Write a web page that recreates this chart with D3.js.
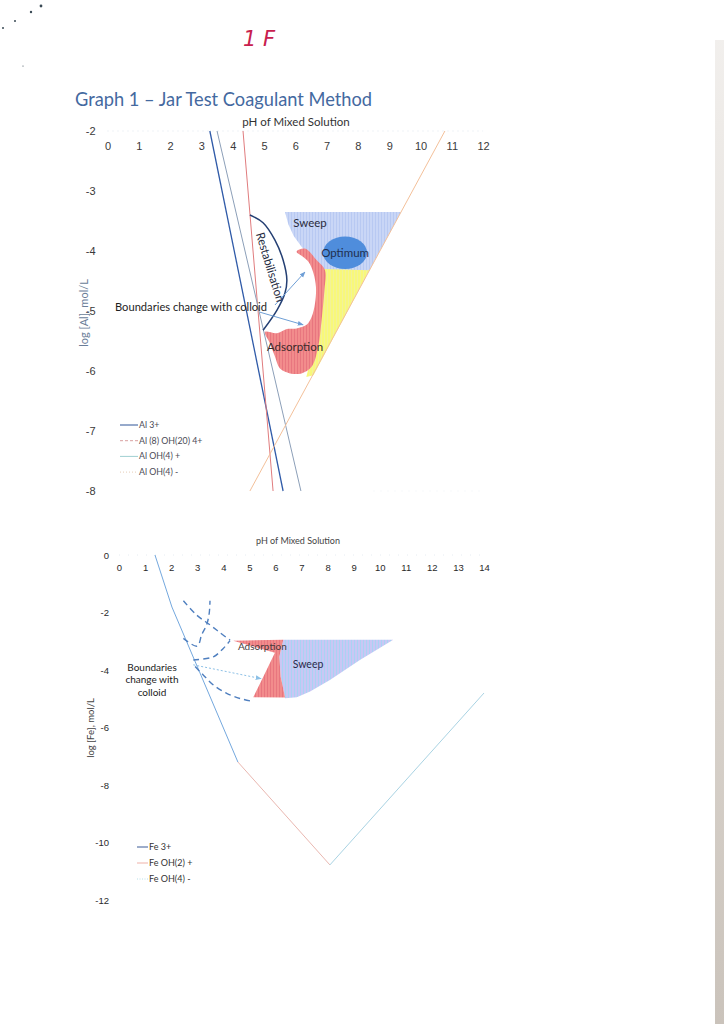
<!DOCTYPE html>
<html><head><meta charset="utf-8">
<script src="https://cdn.jsdelivr.net/npm/d3@7/dist/d3.min.js"></script>
<style>
html,body{margin:0;padding:0;background:#fff;}
svg{display:block;font-family:Lato,"Open Sans",sans-serif;}
</style></head><body>
<svg id="c" width="724" height="1024"></svg>
<script>
// ================= DATA : Graph 1 (Aluminium) =================
const alXTicks = [0,1,2,3,4,5,6,7,8,9,10,11,12];
const alYTicks = [-2,-3,-4,-5,-6,-7,-8];
const alSeriesNames = ["Al 3+","Al (8) OH(20) 4+","Al OH(4) +","Al OH(4) -"];
const alLine3 = [[3.27,-2],[5.61,-8]];
const alLine8 = [[4.33,-2],[5.29,-8]];
const alLineOH4p = [[3.50,-2],[6.18,-8]];
const alLineOH4m = [[10.78,-2],[4.55,-8]];
const alSweep = [[5.67,-3.35],[9.38,-3.35],[8.35,-4.34],[7.9,-4.36],[7.4,-4.34],[6.95,-4.32],[6.7,-4.2],[6.45,-4.07],[6.2,-3.93],[5.95,-3.75],[5.78,-3.56],[5.67,-3.35]];
const alOptimum = {pH:7.59, logC:-4.03, rpH:0.70, rlog:0.27};
const alYellow = [[6.88,-4.3],[8.37,-4.32],[6.58,-6.07],[6.35,-6.1],[6.55,-5.7],[6.75,-5.2],[6.85,-4.7]];
const alAdsorption = [[6.04,-4.01],[6.31,-3.96],[6.68,-4.15],[6.95,-4.32],[6.93,-4.65],[6.84,-5.15],[6.73,-5.60],[6.52,-5.93],[6.20,-6.04],[5.83,-6.04],[5.51,-5.96],[5.35,-5.76],[5.19,-5.54],[5.03,-5.35],[5.41,-5.37],[5.73,-5.30],[6.04,-5.29],[6.36,-5.23],[6.52,-5.10],[6.63,-4.87],[6.66,-4.60],[6.58,-4.37],[6.42,-4.18],[6.20,-4.08]];
const alRestab = [[4.55,-3.40],[4.97,-3.53],[5.35,-3.82],[5.61,-4.15],[5.73,-4.48],[5.67,-4.70],[5.42,-4.98],[4.97,-5.32]];
const alArrows = [[[5.35,-4.90],[6.31,-4.35]],[[4.87,-5.02],[6.25,-5.23]]];

// ================= DATA : Graph 2 (Iron) =================
const feXTicks = [0,1,2,3,4,5,6,7,8,9,10,11,12,13,14];
const feYTicks = [0,-2,-4,-6,-8,-10,-12];
const feSeriesNames = ["Fe 3+","Fe OH(2) +","Fe OH(4) -"];
const feLine3 = [[1.38,0],[2.03,-1.81],[4.56,-7.20]];
const feLineOH2 = [[4.56,-7.20],[8.09,-10.78]];
const feLineOH4 = [[8.09,-10.78],[14.0,-4.80]];
const feAdsorption = [[4.38,-2.98],[6.30,-2.95],[6.15,-3.54],[6.20,-4.23],[6.37,-4.96],[5.15,-4.95],[5.54,-4.23],[5.98,-3.40]];
const feSweep = [[6.30,-2.95],[10.52,-2.95],[9.24,-3.65],[8.09,-4.35],[7.33,-4.75],[6.82,-4.95],[6.37,-4.98],[6.20,-4.23],[6.15,-3.54]];
const feBoundaries = [
  [[2.47,-1.59],[2.98,-2.09],[3.49,-2.43],[3.87,-2.70],[4.26,-2.96]],
  [[2.47,-2.90],[3.00,-3.17],[3.17,-2.78],[3.36,-2.43],[3.46,-2.03],[3.49,-1.59]],
  [[2.85,-3.65],[3.62,-3.54],[4.00,-3.25],[4.26,-2.98]],
  [[2.92,-3.88],[3.23,-4.17],[3.62,-4.52],[4.13,-4.81],[4.64,-4.99],[5.15,-5.10]]
];
const feArrow = [[2.85,-3.82],[5.45,-4.30]];

// ================= DRAW =================
const svg = d3.select("#c");
const defs = svg.append("defs");
const fmt = d => String(d);
function stripe(id, base, line){
  const p = defs.append("pattern").attr("id",id).attr("patternUnits","userSpaceOnUse").attr("width",3).attr("height",10);
  p.append("rect").attr("width",3).attr("height",10).attr("fill",base);
  p.append("line").attr("x1",0.5).attr("x2",0.5).attr("y1",0).attr("y2",10).attr("stroke",line).attr("stroke-width",1);
}
stripe("redS","#f28c8c","#e8767f");
stripe("sweepS","#c9d6f6","#b8c9f2");
stripe("yelS","#f8f87a","#f2f29a");
stripe("sweep2S","#c9c7f4","#a9d3f3");
function marker(id,color){
  defs.append("marker").attr("id",id).attr("viewBox","0 0 10 10").attr("refX",9).attr("refY",5)
   .attr("markerWidth",6).attr("markerHeight",6).attr("orient","auto")
   .append("path").attr("d","M0,1L10,5L0,9z").attr("fill",color);
}
marker("arr1","#6f9fd6");
marker("arr2","#8cc0e6");

// scan artefacts
svg.append("g").selectAll("circle").data([[41,6,1.4],[31,12,1.2],[15,21,1],[3,28,1],[23,66,0.6]]).join("circle")
  .attr("cx",d=>d[0]).attr("cy",d=>d[1]).attr("r",d=>d[2]).attr("fill","#3a4a55");
const grad = defs.append("linearGradient").attr("id","edge").attr("x1",0).attr("x2",0).attr("y1",0).attr("y2",1);
grad.append("stop").attr("offset","0").attr("stop-color","#eeebe8");
grad.append("stop").attr("offset","0.5").attr("stop-color","#d6cfc7");
grad.append("stop").attr("offset","1").attr("stop-color","#bdb4aa");
svg.append("rect").attr("x",715).attr("y",40).attr("width",9).attr("height",984).attr("fill","url(#edge)").attr("opacity",0.8);

svg.append("text").attr("x",243).attr("y",46).attr("fill","#c8204e").attr("font-size",21)
  .attr("font-family","DejaVu Sans").attr("font-style","italic").attr("font-weight",300).text("1 F");

svg.append("text").attr("x",75).attr("y",106).attr("fill","#44699f").attr("font-size",20)
  .attr("textLength",297).attr("lengthAdjust","spacingAndGlyphs")
  .text("Graph 1 – Jar Test Coagulant Method");

// ---------- Chart 1 ----------
const x1 = d3.scaleLinear().domain([0,12]).range([107.5,483.1]);
const y1 = d3.scaleLinear().domain([-2,-8]).range([131,491]);
const g1 = svg.append("g");
const ln1 = d3.line().x(d=>x1(d[0])).y(d=>y1(d[1]));

g1.append("line").attr("x1",x1(0)).attr("x2",x1(12)).attr("y1",y1(-2)).attr("y2",y1(-2))
  .attr("stroke","#dfe6ee").attr("stroke-dasharray","1,4");
g1.append("line").attr("x1",x1(8.5)).attr("x2",x1(12)).attr("y1",y1(-8)).attr("y2",y1(-8))
  .attr("stroke","#eef2f6").attr("stroke-dasharray","1,6");

const ax1 = g1.append("g").attr("transform",`translate(0,${y1(-2)})`)
  .call(d3.axisBottom(x1).tickValues(alXTicks).tickFormat(fmt).tickSize(0).tickPadding(11));
ax1.select(".domain").remove();
ax1.selectAll("text").attr("font-size",11).attr("fill","#3a3a3a");
const ay1 = g1.append("g").attr("transform",`translate(${x1(0)},0)`)
  .call(d3.axisLeft(y1).tickValues(alYTicks).tickFormat(fmt).tickSize(0).tickPadding(12));
ay1.select(".domain").remove();
ay1.selectAll("text").attr("font-size",11).attr("fill","#3a3a3a");
g1.append("text").attr("x",296).attr("y",126).attr("text-anchor","middle").attr("font-size",11.5).attr("fill","#333").text("pH of Mixed Solution");
g1.append("text").attr("transform","translate(88,313) rotate(-90)").attr("text-anchor","middle").attr("font-size",11).attr("fill","#6a7d98").text("log [Al], mol/L");

// regions
g1.append("path").attr("d",ln1(alSweep)).attr("fill","url(#sweepS)");
g1.append("path").attr("d",ln1(alYellow)).attr("fill","url(#yelS)");
g1.append("path").attr("d",d3.line().x(d=>x1(d[0])).y(d=>y1(d[1])).curve(d3.curveCatmullRomClosed)(alAdsorption)).attr("fill","url(#redS)");
g1.append("ellipse").attr("cx",x1(alOptimum.pH)).attr("cy",y1(alOptimum.logC))
  .attr("rx",x1(alOptimum.pH+alOptimum.rpH)-x1(alOptimum.pH))
  .attr("ry",y1(alOptimum.logC-alOptimum.rlog)-y1(alOptimum.logC)).attr("fill","#4f8ddc");

// lines
const alCols = ["#2f5aa8","#e07c7e","#8c9fb8","#f3c09a"];
[alLine3,alLine8,alLineOH4p,alLineOH4m].forEach((d,i)=>{
  g1.append("path").attr("d",ln1(d)).attr("fill","none").attr("stroke",alCols[i]).attr("stroke-width",i===0?1.3:1);
});
g1.append("path").attr("d",d3.line().x(d=>x1(d[0])).y(d=>y1(d[1])).curve(d3.curveCatmullRom)(alRestab))
  .attr("fill","none").attr("stroke","#243f73").attr("stroke-width",1.5);
alArrows.forEach(a=>{
  g1.append("path").attr("d",ln1(a)).attr("stroke","#6f9fd6").attr("stroke-width",1).attr("fill","none").attr("marker-end","url(#arr1)");
});
// labels
g1.append("text").attr("x",x1(6.47)).attr("y",y1(-3.53)+4).attr("text-anchor","middle").attr("font-size",11.5).attr("fill","#2b2b3b").text("Sweep");
g1.append("text").attr("x",x1(alOptimum.pH)).attr("y",y1(alOptimum.logC)+4).attr("text-anchor","middle").attr("font-size",11.5).attr("fill","#1f2f4f").text("Optimum");
g1.append("text").attr("x",x1(5.99)).attr("y",y1(-5.60)+4).attr("text-anchor","middle").attr("font-size",11.5).attr("fill","#3a2a2a").text("Adsorption");
g1.append("text").attr("transform",`translate(${x1(5.2)},${y1(-4.27)}) rotate(73)`).attr("text-anchor","middle").attr("dy","0.35em")
  .attr("font-size",12).attr("textLength",72).attr("lengthAdjust","spacingAndGlyphs").attr("fill","#1e2a3e").text("Restabilisation");
g1.append("text").attr("x",115).attr("y",311).attr("font-size",12.3).attr("textLength",152).attr("lengthAdjust","spacingAndGlyphs")
  .attr("fill","#1e1e1e").text("Boundaries change with colloid");

// legend 1
const alDash = [null,"3,2",null,"1,2"];
const alLegCols = ["#2f5597","#d9a0a0","#9fcfd2","#e6cdb8"];
alSeriesNames.forEach((n,i)=>{
  const yy = 425 + i*15.7;
  g1.append("line").attr("x1",120).attr("x2",138).attr("y1",yy).attr("y2",yy).attr("stroke",alLegCols[i]).attr("stroke-dasharray",alDash[i]);
  g1.append("text").attr("x",139).attr("y",yy+3).attr("font-size",8.8).attr("fill","#4a4a55").text(n);
});

// ---------- Chart 2 ----------
const x2 = d3.scaleLinear().domain([0,14]).range([119,484]);
const y2 = d3.scaleLinear().domain([0,-12]).range([555,900]);
const g2 = svg.append("g");
const ln2 = d3.line().x(d=>x2(d[0])).y(d=>y2(d[1]));
g2.append("line").attr("x1",x2(0)).attr("x2",x2(14)).attr("y1",y2(0)).attr("y2",y2(0))
  .attr("stroke","#e6ecf2").attr("stroke-dasharray","1,8");
const ax2 = g2.append("g").attr("transform",`translate(0,${y2(0)})`)
  .call(d3.axisBottom(x2).tickValues(feXTicks).tickFormat(fmt).tickSize(0).tickPadding(9));
ax2.select(".domain").remove();
ax2.selectAll("text").attr("font-size",9.5).attr("fill","#2a2a2a");
const ay2 = g2.append("g").attr("transform",`translate(${x2(0)},0)`)
  .call(d3.axisLeft(y2).tickValues(feYTicks).tickFormat(fmt).tickSize(0).tickPadding(10));
ay2.select(".domain").remove();
ay2.selectAll("text").attr("font-size",9.5).attr("fill","#2a2a2a");
g2.append("text").attr("x",298).attr("y",544).attr("text-anchor","middle").attr("font-size",9).attr("fill","#444").text("pH of Mixed Solution");
g2.append("text").attr("transform","translate(94,728) rotate(-90)").attr("text-anchor","middle").attr("font-size",9.5).attr("fill","#444").text("log [Fe], mol/L");

g2.append("path").attr("d",ln2(feSweep)).attr("fill","url(#sweep2S)");
g2.append("path").attr("d",ln2(feAdsorption)).attr("fill","url(#redS)");
g2.append("path").attr("d",ln2(feLine3)).attr("fill","none").attr("stroke","#74a8de").attr("stroke-width",1);
g2.append("path").attr("d",ln2(feLineOH2)).attr("fill","none").attr("stroke","#e9b7b0").attr("stroke-width",1);
g2.append("path").attr("d",ln2(feLineOH4)).attr("fill","none").attr("stroke","#a9d3e3").attr("stroke-width",1);
feBoundaries.forEach(b=>{
  g2.append("path").attr("d",d3.line().x(d=>x2(d[0])).y(d=>y2(d[1])).curve(d3.curveCatmullRom)(b))
    .attr("fill","none").attr("stroke","#4f7fbf").attr("stroke-width",1.4).attr("stroke-dasharray","6,4");
});
g2.append("path").attr("d",ln2(feArrow)).attr("stroke","#8cc0e6").attr("stroke-width",1).attr("stroke-dasharray","2,2").attr("fill","none").attr("marker-end","url(#arr2)");
g2.append("text").attr("x",x2(5.50)).attr("y",y2(-3.17)+3.5).attr("text-anchor","middle").attr("font-size",10).attr("fill","#4a3a3a").text("Adsorption");
g2.append("text").attr("x",x2(7.25)).attr("y",y2(-3.78)+4).attr("text-anchor","middle").attr("font-size",10.5).attr("fill","#2a2a4a").text("Sweep");
g2.append("text").attr("x",152).attr("y",671).attr("text-anchor","middle").attr("font-size",10).attr("fill","#222")
  .selectAll("tspan").data(["Boundaries","change with","colloid"]).join("tspan").attr("x",152).attr("dy",(d,i)=>i?12.3:0).text(d=>d);

const feLegCols = ["#3a5a96","#efb1a8","#b8dfe8"];
const feDash = [null,null,"1,1.5"];
feSeriesNames.forEach((n,i)=>{
  const yy = 847 + i*16;
  g2.append("line").attr("x1",137).attr("x2",148).attr("y1",yy).attr("y2",yy).attr("stroke",feLegCols[i]).attr("stroke-dasharray",feDash[i]);
  g2.append("text").attr("x",149).attr("y",yy+3).attr("font-size",9).attr("fill","#333").text(n);
});
</script>
</body></html>
